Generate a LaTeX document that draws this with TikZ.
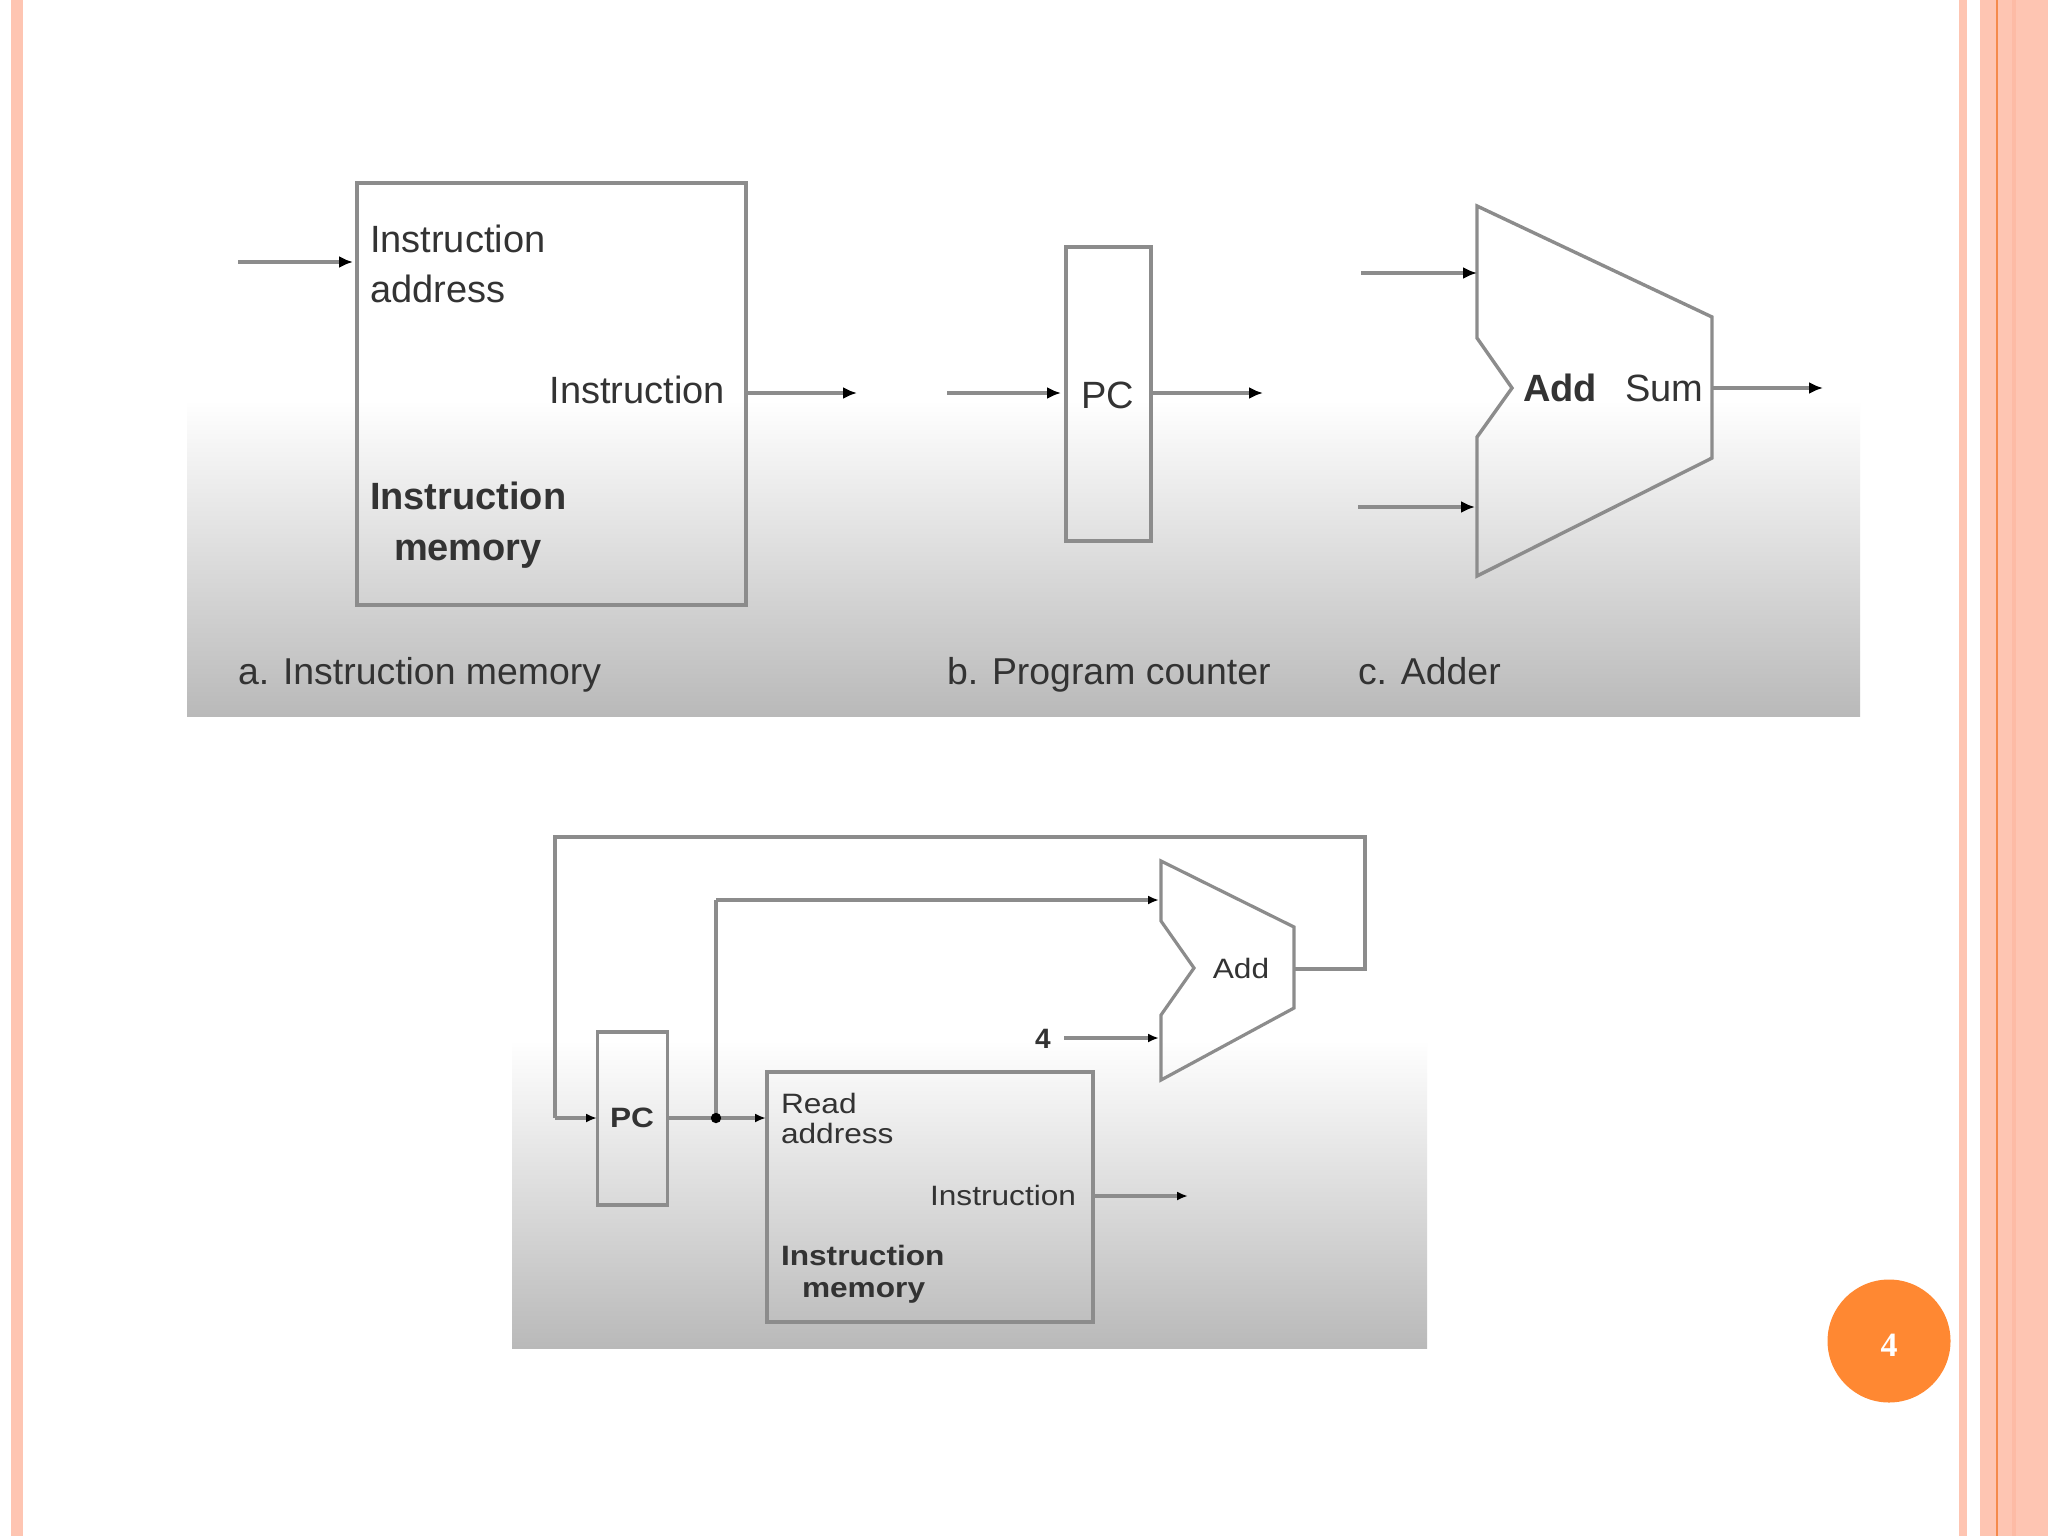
\documentclass[tikz,border=0pt]{standalone}
\usepackage{fontspec}
\setmainfont{Liberation Sans}
\newfontfamily\numfont{Liberation Serif}
\usetikzlibrary{arrows.meta}
\definecolor{stripe}{HTML}{FEC5B2}
\definecolor{stripeb}{HTML}{FDBBA5}
\definecolor{stripeline}{HTML}{F58A4B}
\definecolor{badge}{HTML}{FF8832}
\definecolor{wirecol}{HTML}{8C8C8C}
\definecolor{txt}{HTML}{333333}
\definecolor{shadeend}{HTML}{B9B9B9}
\newcommand{\bsc}[1]{\scalebox{1.13}[1]{#1}}
\tikzset{
  x=0.5pt,y=-0.5pt,
  boxshape/.style={draw=wirecol,line width=1.8pt,inner sep=0pt,outer sep=0pt,fill=none},
  wire/.style={draw=wirecol,line width=1.7pt},
  arrowwire/.style={wire,-{Latex[length=7pt,width=6pt,black]},shorten >=-0.5pt},
  wiresm/.style={draw=wirecol,line width=1.9pt},
  arrowsm/.style={wiresm,-{Latex[length=5.5pt,width=4.5pt,black]},shorten >=-0.5pt},
  labl/.style={inner sep=0pt,outer sep=0pt,text=txt,font=\fontsize{19}{19}\selectfont,anchor=base west},
  labr/.style={labl,anchor=base east},
  labb/.style={labl,font=\fontsize{19}{19}\selectfont\bfseries},
  captext/.style={labl,font=\fontsize{18.7}{19}\selectfont},
  sl/.style={labl,font=\fontsize{14}{14}\selectfont},
  slr/.style={sl,anchor=base east},
  slb/.style={sl,font=\fontsize{14}{14}\selectfont\bfseries},
}
\begin{document}
\begin{tikzpicture}
\useasboundingbox (0,0) rectangle (2048,1536);
\fill[white] (0,0) rectangle (2048,1536);
% slide stripes
\fill[stripe] (11,0) rectangle (23,1536);
\fill[stripe] (1959,0) rectangle (1967,1536);
\fill[stripe] (1980,0) rectangle (2048,1536);
\fill[stripeb] (2012,0) rectangle (2016,1536);
\fill[stripeline] (1996,0) rectangle (1998,1536);
% image backgrounds
\shade[top color=white,bottom color=shadeend] (187,400) rectangle (1860,716);
\shade[top color=white,bottom color=shadeend] (512,1040) rectangle (1427,1348);
% badge
\node (badgec) [circle,fill=badge,minimum size=61.5pt,inner sep=0pt] at (1889,1341) {};
\node (badgen) [inner sep=0pt,text=white,font=\numfont\bfseries\fontsize{17}{17}\selectfont] at (1889,1345) {4};

% ---- top: instruction memory
\node (imbox) [boxshape,minimum width=194.5pt,minimum height=211pt] at (551.5,394) {};
\node (tIA) [labl] at (370,252) {Instruction};
\node (tAd) [labl] at (370,302) {address};
\node (tIn) [labr] at (725,403) {Instruction};
\node (tIM) [labb] at (370,509) {Instruction};
\node (tMe) [labb] at (394,560) {memory};
\coordinate (imInStart) at (238,262);
\coordinate (imInEnd) at (352,262);
\coordinate (imOutStart) at (746,393);
\coordinate (imOutEnd) at (856,393);
\draw[arrowwire] (imInStart) -- (imInEnd);
\draw[arrowwire] (imOutStart) -- (imOutEnd);
% ---- top: PC
\node (pcbox) [boxshape,minimum width=42.5pt,minimum height=147pt] at (1108.5,394) {};
\node (tPC) [labl,anchor=center,font=\fontsize{19}{19}\selectfont] at (1108,395) {PC};
\coordinate (pcInStart) at (947,393);
\coordinate (pcInEnd) at (1060,393);
\coordinate (pcOutEnd) at (1262,393);
\draw[arrowwire] (pcInStart) -- (pcInEnd);
\draw[arrowwire] (pcbox.east |- pcOutEnd) -- (pcOutEnd);
% ---- top: adder
\coordinate (aA) at (1477,206);
\coordinate (aB) at (1712,317);
\coordinate (aC) at (1712,458);
\coordinate (aD) at (1477,576);
\coordinate (aE) at (1477,437);
\coordinate (aF) at (1512,388);
\coordinate (aG) at (1477,338);
\draw[wire,line join=miter] (aA) -- (aB) -- (aC) -- (aD) -- (aE) -- (aF) -- (aG) -- cycle;
\node (tAdd) [labb] at (1523,401) {Add};
\node (tSum) [labl] at (1625,401) {Sum};
\coordinate (aIn1s) at (1361,273);
\coordinate (aIn1e) at (1476,273);
\coordinate (aIn2s) at (1358,507);
\coordinate (aIn2e) at (1474,507);
\coordinate (aOuts) at (1712,388);
\coordinate (aOute) at (1822,388);
\draw[arrowwire] (aIn1s) -- (aIn1e);
\draw[arrowwire] (aIn2s) -- (aIn2e);
\draw[arrowwire] (aOuts) -- (aOute);
% ---- captions
\node (capA) [captext] at (238,684) {a. Instruction memory};
\node (capB) [captext] at (947,684) {b. Program counter};
\node (capC) [captext] at (1358,684) {c. Adder};

% ---- bottom
\node (pc2) [boxshape,line width=1.6pt,minimum width=35pt,minimum height=86.5pt] at (632.5,1118.5) {};
\node (tPC2) [slb,anchor=center] at (632,1118) {\bsc{PC}};
\node (im2) [boxshape,line width=1.6pt,minimum width=163pt,minimum height=125pt] at (930,1197) {};
\node (tRe) [sl] at (781,1113) {\bsc{Read}};
\node (tAd2) [sl] at (781,1143) {\bsc{address}};
\node (tIn2) [slr] at (1076,1205) {\bsc{Instruction}};
\node (tIM2) [slb] at (781,1265) {\bsc{Instruction}};
\node (tMe2) [slb] at (802,1297) {\bsc{memory}};
\coordinate (bA) at (1161,861);
\coordinate (bB) at (1294,927);
\coordinate (bC) at (1294,1008);
\coordinate (bD) at (1161,1080);
\coordinate (bE) at (1161,1015);
\coordinate (bF) at (1194,968);
\coordinate (bG) at (1161,921);
\draw[wire,line width=1.6pt,line join=miter] (bA) -- (bB) -- (bC) -- (bD) -- (bE) -- (bF) -- (bG) -- cycle;
\node (tAdd2) [sl,anchor=center] at (1241,968) {\bsc{Add}};
\node (tFour) [slb,anchor=center] at (1043,1039) {4};
\coordinate (bOut) at (1294,969);
\coordinate (loopR) at (1365,837);
\coordinate (loopL) at (555,837);
\coordinate (pcIn) at (555,1118);
\coordinate (pcInT) at (596,1118);
\coordinate (junc) at (716,1118);
\coordinate (upT) at (716,900);
\coordinate (upE) at (1158,900);
\coordinate (fourS) at (1064,1038);
\coordinate (fourE) at (1158,1038);
\coordinate (imIn) at (765,1118);
\coordinate (imOutE) at (1187,1196);
\draw[wiresm,line join=miter] (bOut) -- (bOut -| loopR) -- (loopR) -- (loopL) -- (pcIn);
\draw[arrowsm] (pcIn) -- (pcInT);
\draw[wiresm] (pc2.east |- junc) -- (junc);
\draw[arrowsm] (junc) -- (imIn);
\draw[wiresm,line join=miter] (junc) -- (upT);
\draw[arrowsm] (upT) -- (upE);
\draw[arrowsm] (fourS) -- (fourE);
\draw[arrowsm] (im2.east |- imOutE) -- (imOutE);
\fill[black] (junc) circle (2.6pt);
\end{tikzpicture}
\end{document}
